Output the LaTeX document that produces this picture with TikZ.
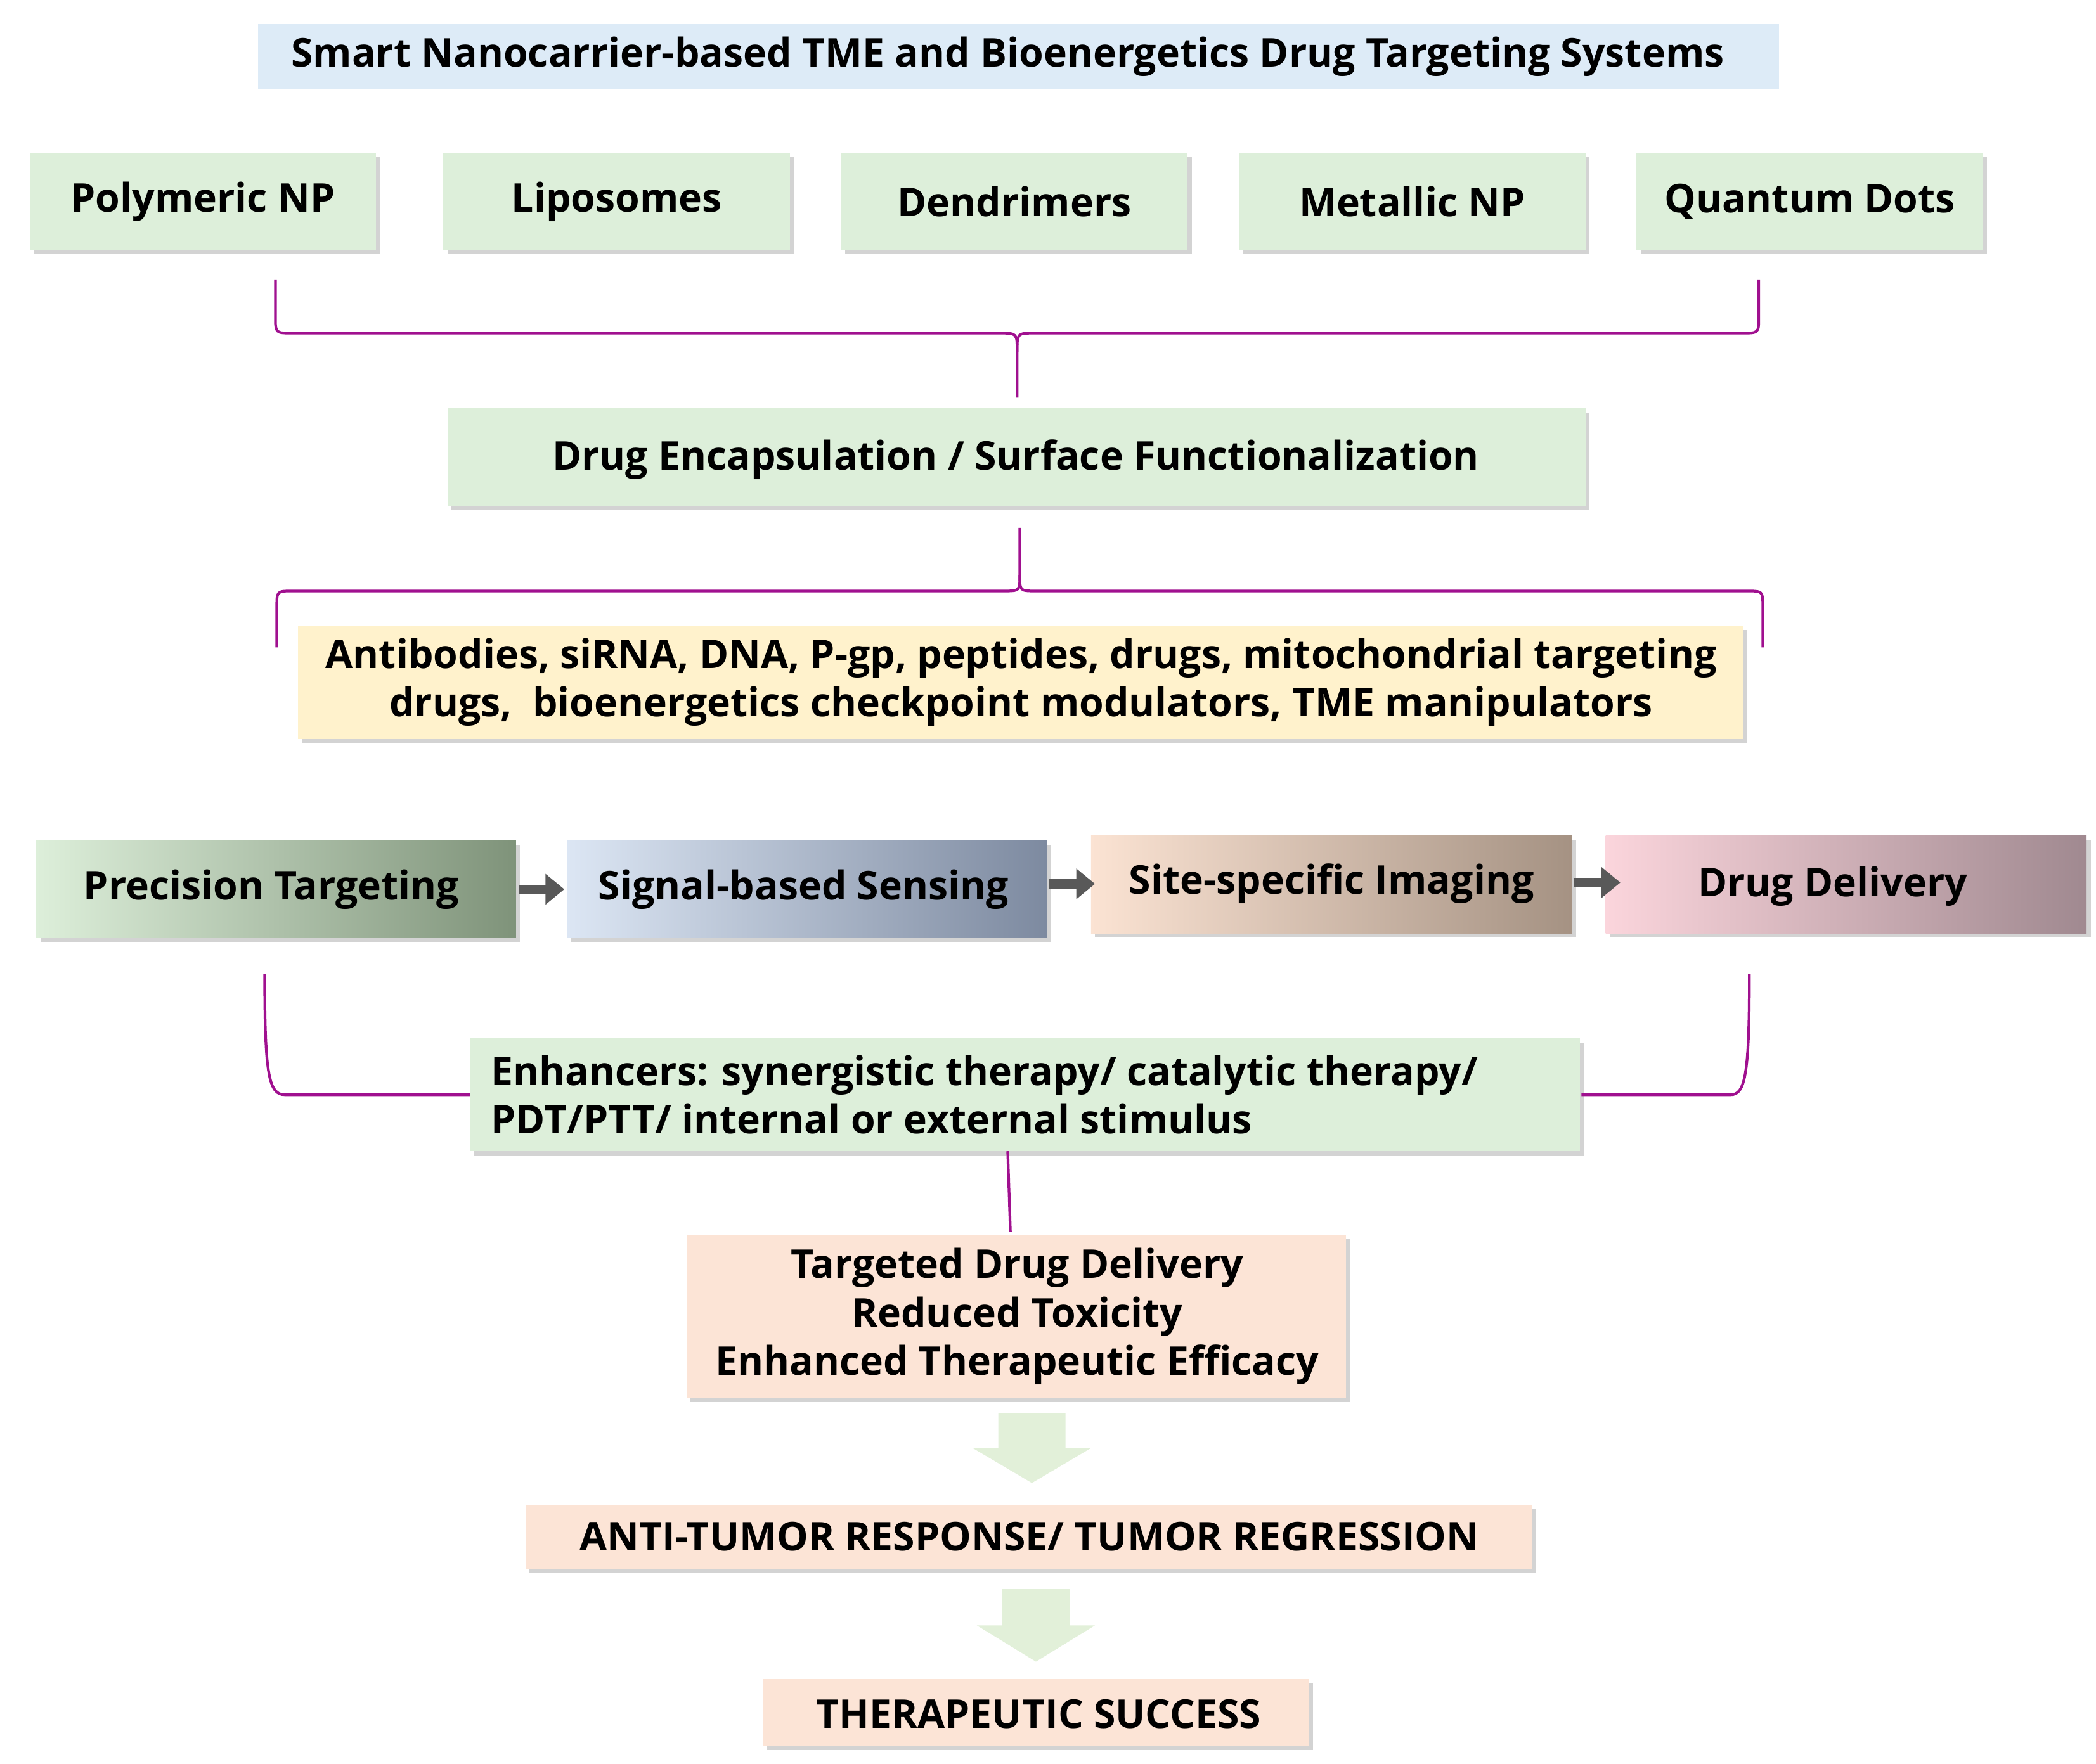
\documentclass[tikz,border=0pt]{standalone}
\usepackage{fontspec}
\setmainfont{Open Sans}
\usetikzlibrary{shadows,arrows.meta}
\definecolor{boxgreen}{HTML}{DDEFDA}
\definecolor{titleblue}{HTML}{DDEBF7}
\definecolor{yel}{HTML}{FFF2CC}
\definecolor{peach}{HTML}{FCE4D6}
\definecolor{mag}{HTML}{A0108F}
\definecolor{arrgreen}{HTML}{E2F0D9}
\definecolor{gA}{HTML}{7F937A}
\definecolor{bA}{HTML}{DCE6F4}
\definecolor{bB}{HTML}{7D8AA0}
\definecolor{oA}{HTML}{FBE3D3}
\definecolor{oB}{HTML}{A59283}
\definecolor{rA}{HTML}{FBD5DC}
\definecolor{rB}{HTML}{A08990}
\tikzset{
  bx/.style={inner sep=0pt, drop shadow={shadow xshift=3pt,shadow yshift=-3pt,opacity=.35}},
  txt/.style={font=\fontsize{29.5}{36}\selectfont\bfseries, text=black},
  brace/.style={draw=mag, line width=2pt},
  garr/.style={-{Triangle[length=14pt,width=22pt]}, line width=7pt, draw=black!65},
}
\begin{document}
\begin{tikzpicture}[x=1pt,y=1pt]
\useasboundingbox (0,0) rectangle (1560,-1313);
% title
\path[fill=titleblue] (192,-18) rectangle (1324,-66);
\node[txt,font=\fontsize{29.5}{34}\selectfont\bfseries] (title) at (750,-42) {Smart Nanocarrier-based TME and Bioenergetics Drug Targeting Systems};
% top row
\foreach \n/\a/\t in {p/22/Polymeric NP,l/330/Liposomes,d/626/Dendrimers,m/922/Metallic NP,q/1218/Quantum Dots}{
  \path[fill=boxgreen,bx] (\a,-114) rectangle ({\a+258},-186);
  \node[txt] (\n) at ({\a+129},-150) {\t};
}
% brace 1
\draw[brace] (205,-208) -- (205,-236) .. controls (205,-248) .. (218,-248) -- (744,-248) .. controls (757,-248) .. (757,-262) -- (757,-296);
\draw[brace] (1309,-208) -- (1309,-236) .. controls (1309,-248) .. (1296,-248) -- (770,-248) .. controls (757,-248) .. (757,-262);
% encapsulation
\path[fill=boxgreen,bx] (333,-304) rectangle (1180,-377);
\node[txt] (enc) at (756,-342) {Drug Encapsulation / Surface Functionalization};
% brace 2
\draw[brace] (759,-393) -- (759,-428) .. controls (759,-440) .. (747,-440) -- (218,-440) .. controls (206,-440) .. (206,-452) -- (206,-482);
\draw[brace] (759,-428) .. controls (759,-440) .. (771,-440) -- (1300,-440) .. controls (1312,-440) .. (1312,-452) -- (1312,-482);
% yellow
\path[fill=yel,bx] (222,-466) rectangle (1297,-550);
\node[txt,align=center] (ab) at (760,-508) {Antibodies, siRNA, DNA, P-gp, peptides, drugs, mitochondrial targeting\\drugs,\ \ bioenergetics checkpoint modulators, TME manipulators};
% process row
\path[left color=boxgreen,right color=gA,bx] (27,-626) rectangle (384,-698);
\path[left color=bA,right color=bB,bx] (422,-626) rectangle (779,-698);
\path[left color=oA,right color=oB,bx] (812,-622) rectangle (1170,-695);
\path[left color=rA,right color=rB,bx] (1195,-622) rectangle (1553,-695);
\node[txt] (pt) at (202,-662) {Precision Targeting};
\node[txt] (sb) at (598,-662) {Signal-based Sensing};
\node[txt] (si) at (991,-658) {Site-specific Imaging};
\node[txt] (dd) at (1364,-660) {Drug Delivery};
\draw[garr] (386,-662) -- (420,-662);
\draw[garr] (781,-658) -- (815,-658);
\draw[garr] (1171,-657) -- (1206,-657);
% enhancers
\path[fill=boxgreen,bx] (350,-773) rectangle (1176,-857);
\node[txt,align=left,anchor=west] (enh) at (362,-815) {Enhancers: synergistic therapy/ catalytic therapy/\\PDT/PTT/ internal or external stimulus};
\draw[brace] (197,-725) .. controls (197,-800) and (200,-815) .. (212,-815) -- (350,-815);
\draw[brace] (1302,-725) .. controls (1302,-800) and (1299,-815) .. (1288,-815) -- (1177,-815);
\draw[brace] (750,-857) -- (752,-917);
% result
\path[fill=peach,bx] (511,-919) rectangle (1002,-1041);
\node[txt,align=center] (res) at (757,-980) {Targeted Drug Delivery\\Reduced Toxicity\\Enhanced Therapeutic Efficacy};
% block arrows
\fill[arrgreen] (743,-1052) -- (793,-1052) -- (793,-1078) -- (812,-1078) -- (768,-1104) -- (724,-1078) -- (743,-1078) -- cycle;
\path[fill=peach,bx] (391,-1120) rectangle (1140,-1168);
\node[txt] (anti) at (766,-1144) {ANTI-TUMOR RESPONSE/ TUMOR REGRESSION};
\fill[arrgreen] (746,-1183) -- (796,-1183) -- (796,-1210) -- (815,-1210) -- (771,-1237) -- (727,-1210) -- (746,-1210) -- cycle;
\path[fill=peach,bx] (568,-1250) rectangle (974,-1300);
\node[txt] (ts) at (773,-1276) {THERAPEUTIC SUCCESS};
\end{tikzpicture}
\end{document}
